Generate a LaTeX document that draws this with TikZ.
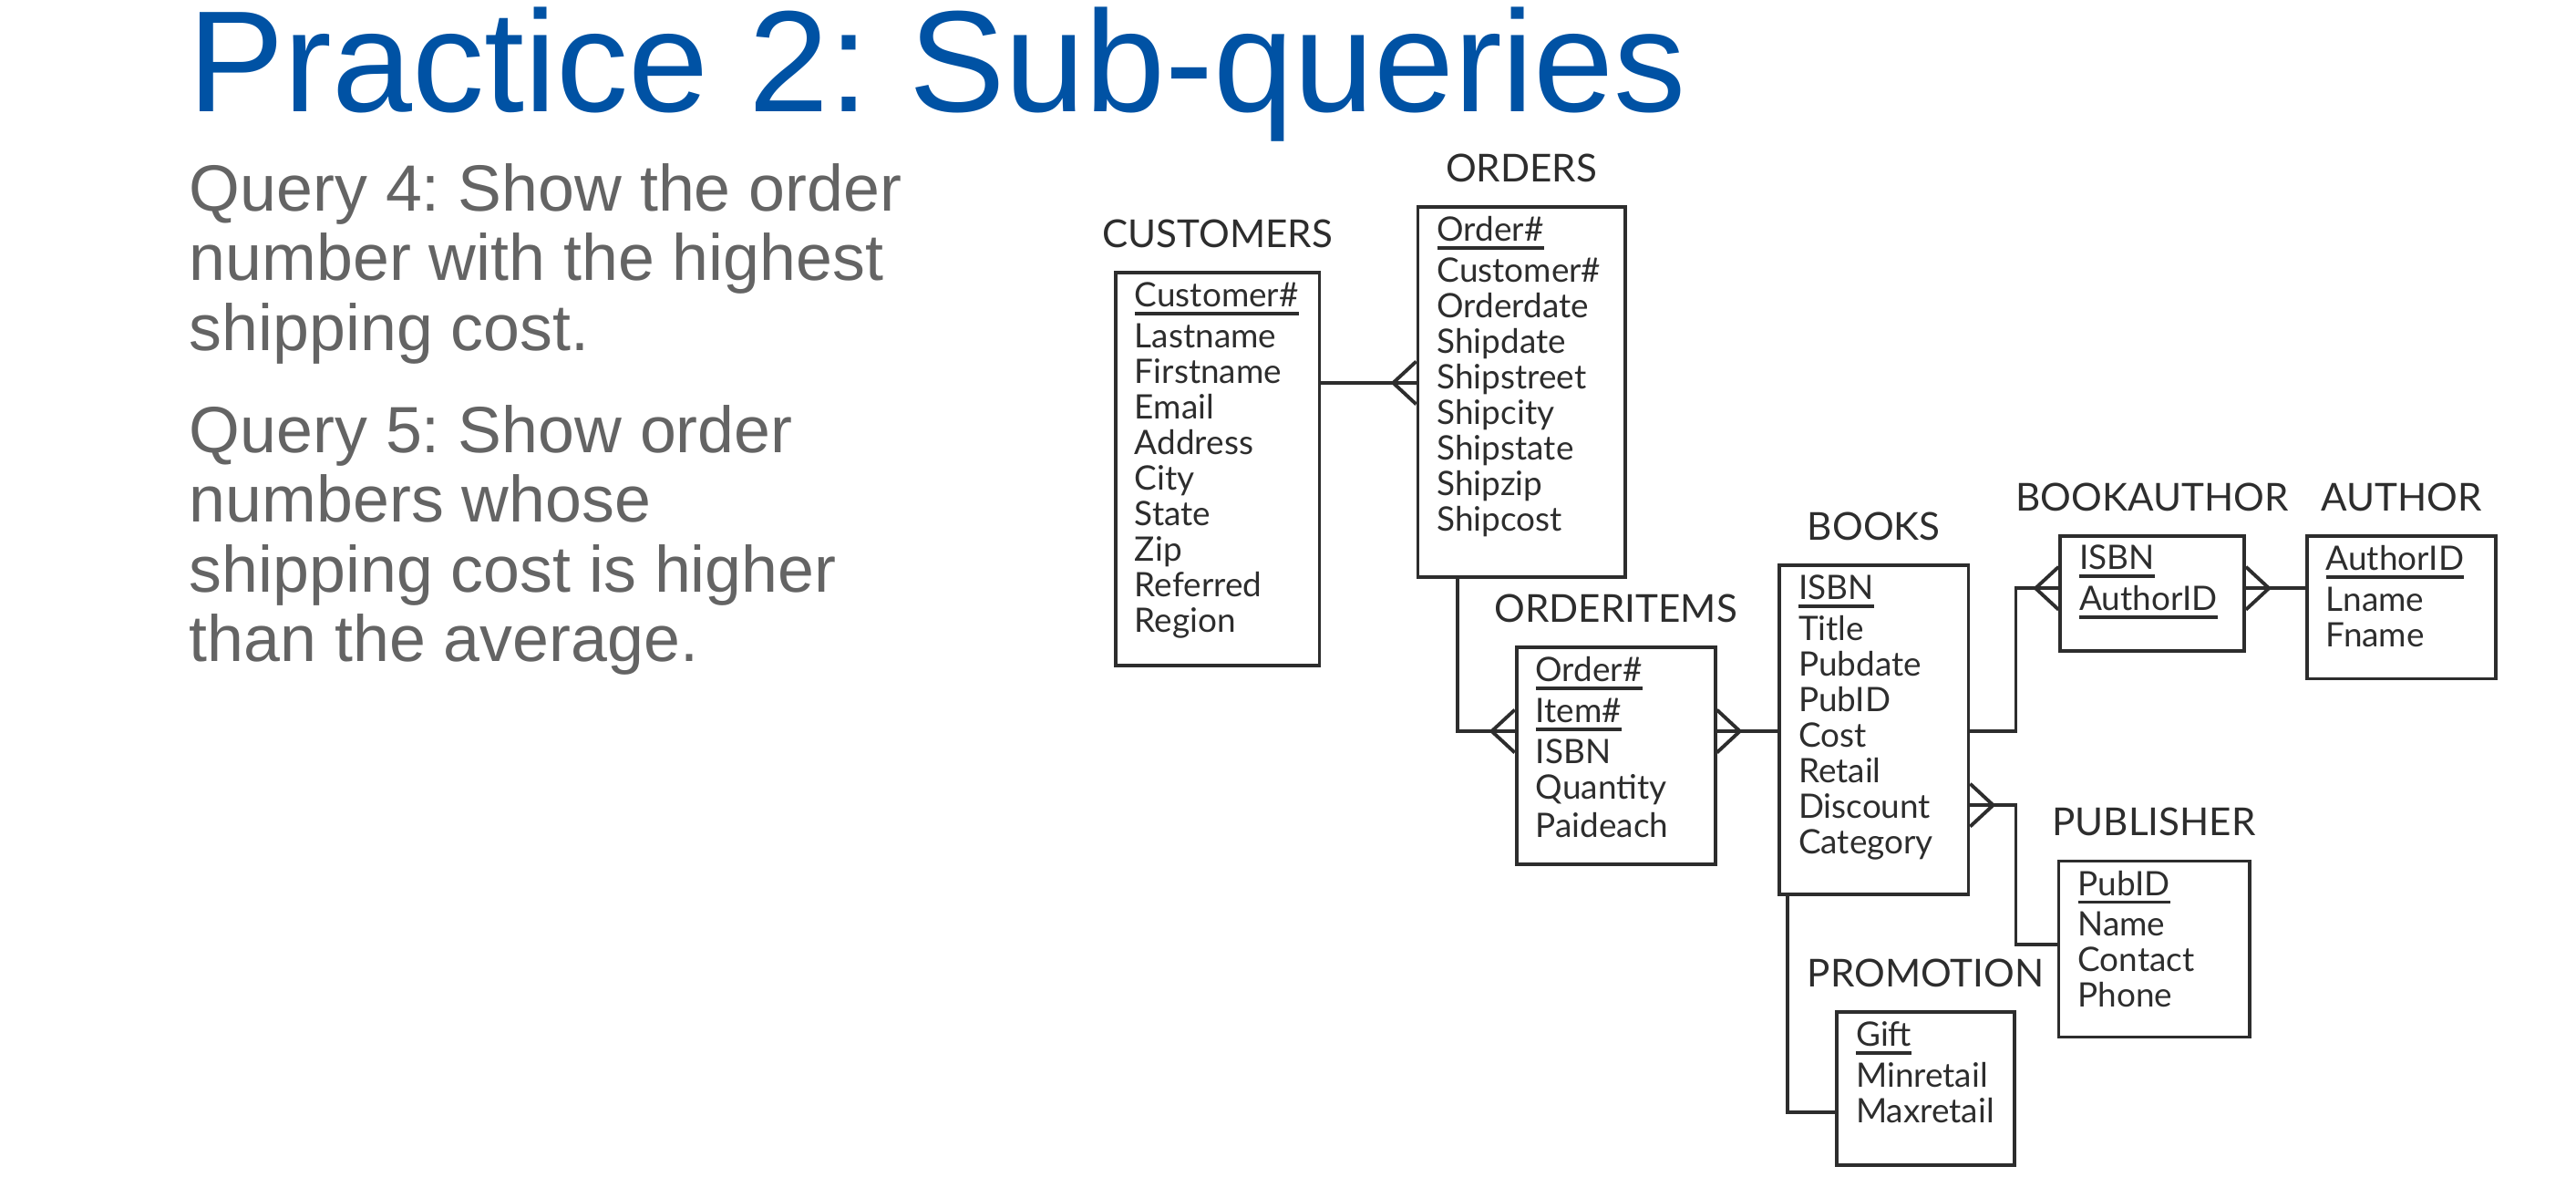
\documentclass[tikz,border=0pt]{standalone}
\usepackage{fontspec}
\setmainfont{Liberation Sans}
\newfontfamily\erdfont{Lato}
\usetikzlibrary{positioning}
\definecolor{titleblue}{RGB}{0,82,164}
\definecolor{bodygray}{RGB}{100,100,100}
\definecolor{erdgray}{RGB}{45,45,45}
\frenchspacing
% key attribute: text with a heavy rule below
\newcommand{\pkey}[1]{\leavevmode\setbox0\hbox{#1}\rlap{\rule[-2.6pt]{\wd0}{1.1pt}}\box0\par\vspace{1.6pt}}
% box contents, fixed outer size (pt)
\newcommand{\entbody}[3]{\parbox[t][\dimexpr#2pt-6pt\relax][t]{\dimexpr#1pt-12pt\relax}{\fontsize{10.5}{11.1}\selectfont#3}}
% crow's foot at a point on a box side
\newcommand{\crowfoot}[2]{\draw[erdline] (#1) ++(#2,0) -- ++(-#2,-13) (#1) ++(#2,0) -- ++(-#2,13);}

\begin{document}
\begin{tikzpicture}[x=0.01802cm,y=-0.01802cm,
    entity/.style={draw=erdgray,line width=1.1pt,inner xsep=6pt,inner ysep=3pt,anchor=north west,font=\erdfont,text=erdgray},
    enttitle/.style={font=\erdfont\fontsize{12}{12}\selectfont,text=erdgray,inner sep=0pt},
    erdline/.style={draw=erdgray,line width=1.1pt},
    query/.style={anchor=north west,inner sep=0pt,align=left,text=bodygray,font=\fontsize{20.4}{21.8}\selectfont}]
\useasboundingbox (0,0) rectangle (1568,716);

\node[anchor=base west,inner sep=0pt,text=titleblue,font=\fontsize{45}{45}\selectfont] (title) at (114,68) {Practice 2: Sub-queries};
\node[query] (q4) at (115,99) {Query 4: Show the order\\number with the highest\\shipping cost.};
\node[query] (q5) at (115,246) {Query 5: Show order\\numbers whose\\shipping cost is higher\\than the average.};

% entities
\node[entity] (customers) at (678,165) {\entbody{63.6}{122.6}{\pkey{Customer\#}Lastname\\Firstname\\Email\\Address\\City\\State\\Zip\\Referred\\Region}};
\node[entity] (orders) at (862,125) {\entbody{64.6}{115.4}{\pkey{Order\#}Customer\#\\Orderdate\\Shipdate\\Shipstreet\\Shipcity\\Shipstate\\Shipzip\\Shipcost}};
\node[entity] (orderitems) at (922,393) {\entbody{62}{67.7}{\pkey{Order\#}\pkey{Item\#}ISBN\\Quantity\\[1pt]Paideach}};
\node[entity] (books) at (1082,343) {\entbody{59}{102.6}{\pkey{ISBN}Title\\Pubdate\\PubID\\Cost\\Retail\\Discount\\Category}};
\node[entity] (bookauthor) at (1253,325) {\entbody{57.4}{35.9}{\pkey{ISBN}\pkey{AuthorID}}};
\node[entity] (author) at (1403,325) {\entbody{59}{44.6}{\pkey{AuthorID}Lname\\Fname}};
\node[entity] (publisher) at (1252,523) {\entbody{59.5}{54.9}{\pkey{PubID}Name\\Contact\\Phone}};
\node[entity] (promotion) at (1117,615) {\entbody{55.4}{47.7}{\pkey{Gift}Minretail\\Maxretail}};

% titles
\node[enttitle,above=7pt of customers] (customers-t) {CUSTOMERS};
\node[enttitle,above=7pt of orders] (orders-t) {ORDERS};
\node[enttitle,above=7pt of orderitems] (orderitems-t) {ORDERITEMS};
\node[enttitle,above=7pt of books] (books-t) {BOOKS};
\node[enttitle,above=7pt of bookauthor] (bookauthor-t) {BOOKAUTHOR};
\node[enttitle,above=7pt of author] (author-t) {AUTHOR};
\node[enttitle,above=7pt of publisher] (publisher-t) {PUBLISHER};
\node[enttitle,above=7pt of promotion] (promotion-t) {PROMOTION};

% relationship levels
\coordinate (r1) at (0,233);
\coordinate (r2) at (887,445);
\coordinate (r3) at (1227,358);
\coordinate (r4) at (1227,490);
\coordinate (r5) at (1088,677);
\coordinate (r6) at (1227,575);

\draw[erdline] (customers.east |- r1) -- (orders.west |- r1);
\crowfoot{orders.west |- r1}{-14}
\draw[erdline] (orders.south -| r2) -- (r2) -- (orderitems.west |- r2);
\crowfoot{orderitems.west |- r2}{-14}
\draw[erdline] (orderitems.east |- r2) -- (books.west |- r2);
\crowfoot{orderitems.east |- r2}{14}
\draw[erdline] (books.east |- r2) -- (r2 -| r3) -- (r3) -- (bookauthor.west |- r3);
\crowfoot{bookauthor.west |- r3}{-14}
\draw[erdline] (bookauthor.east |- r3) -- (author.west |- r3);
\crowfoot{bookauthor.east |- r3}{14}
\draw[erdline] (books.east |- r4) -- (r4) -- (r6) -- (publisher.west |- r6);
\crowfoot{books.east |- r4}{14}
\draw[erdline] (books.south -| r5) -- (r5) -- (promotion.west |- r5);
\end{tikzpicture}
\end{document}
